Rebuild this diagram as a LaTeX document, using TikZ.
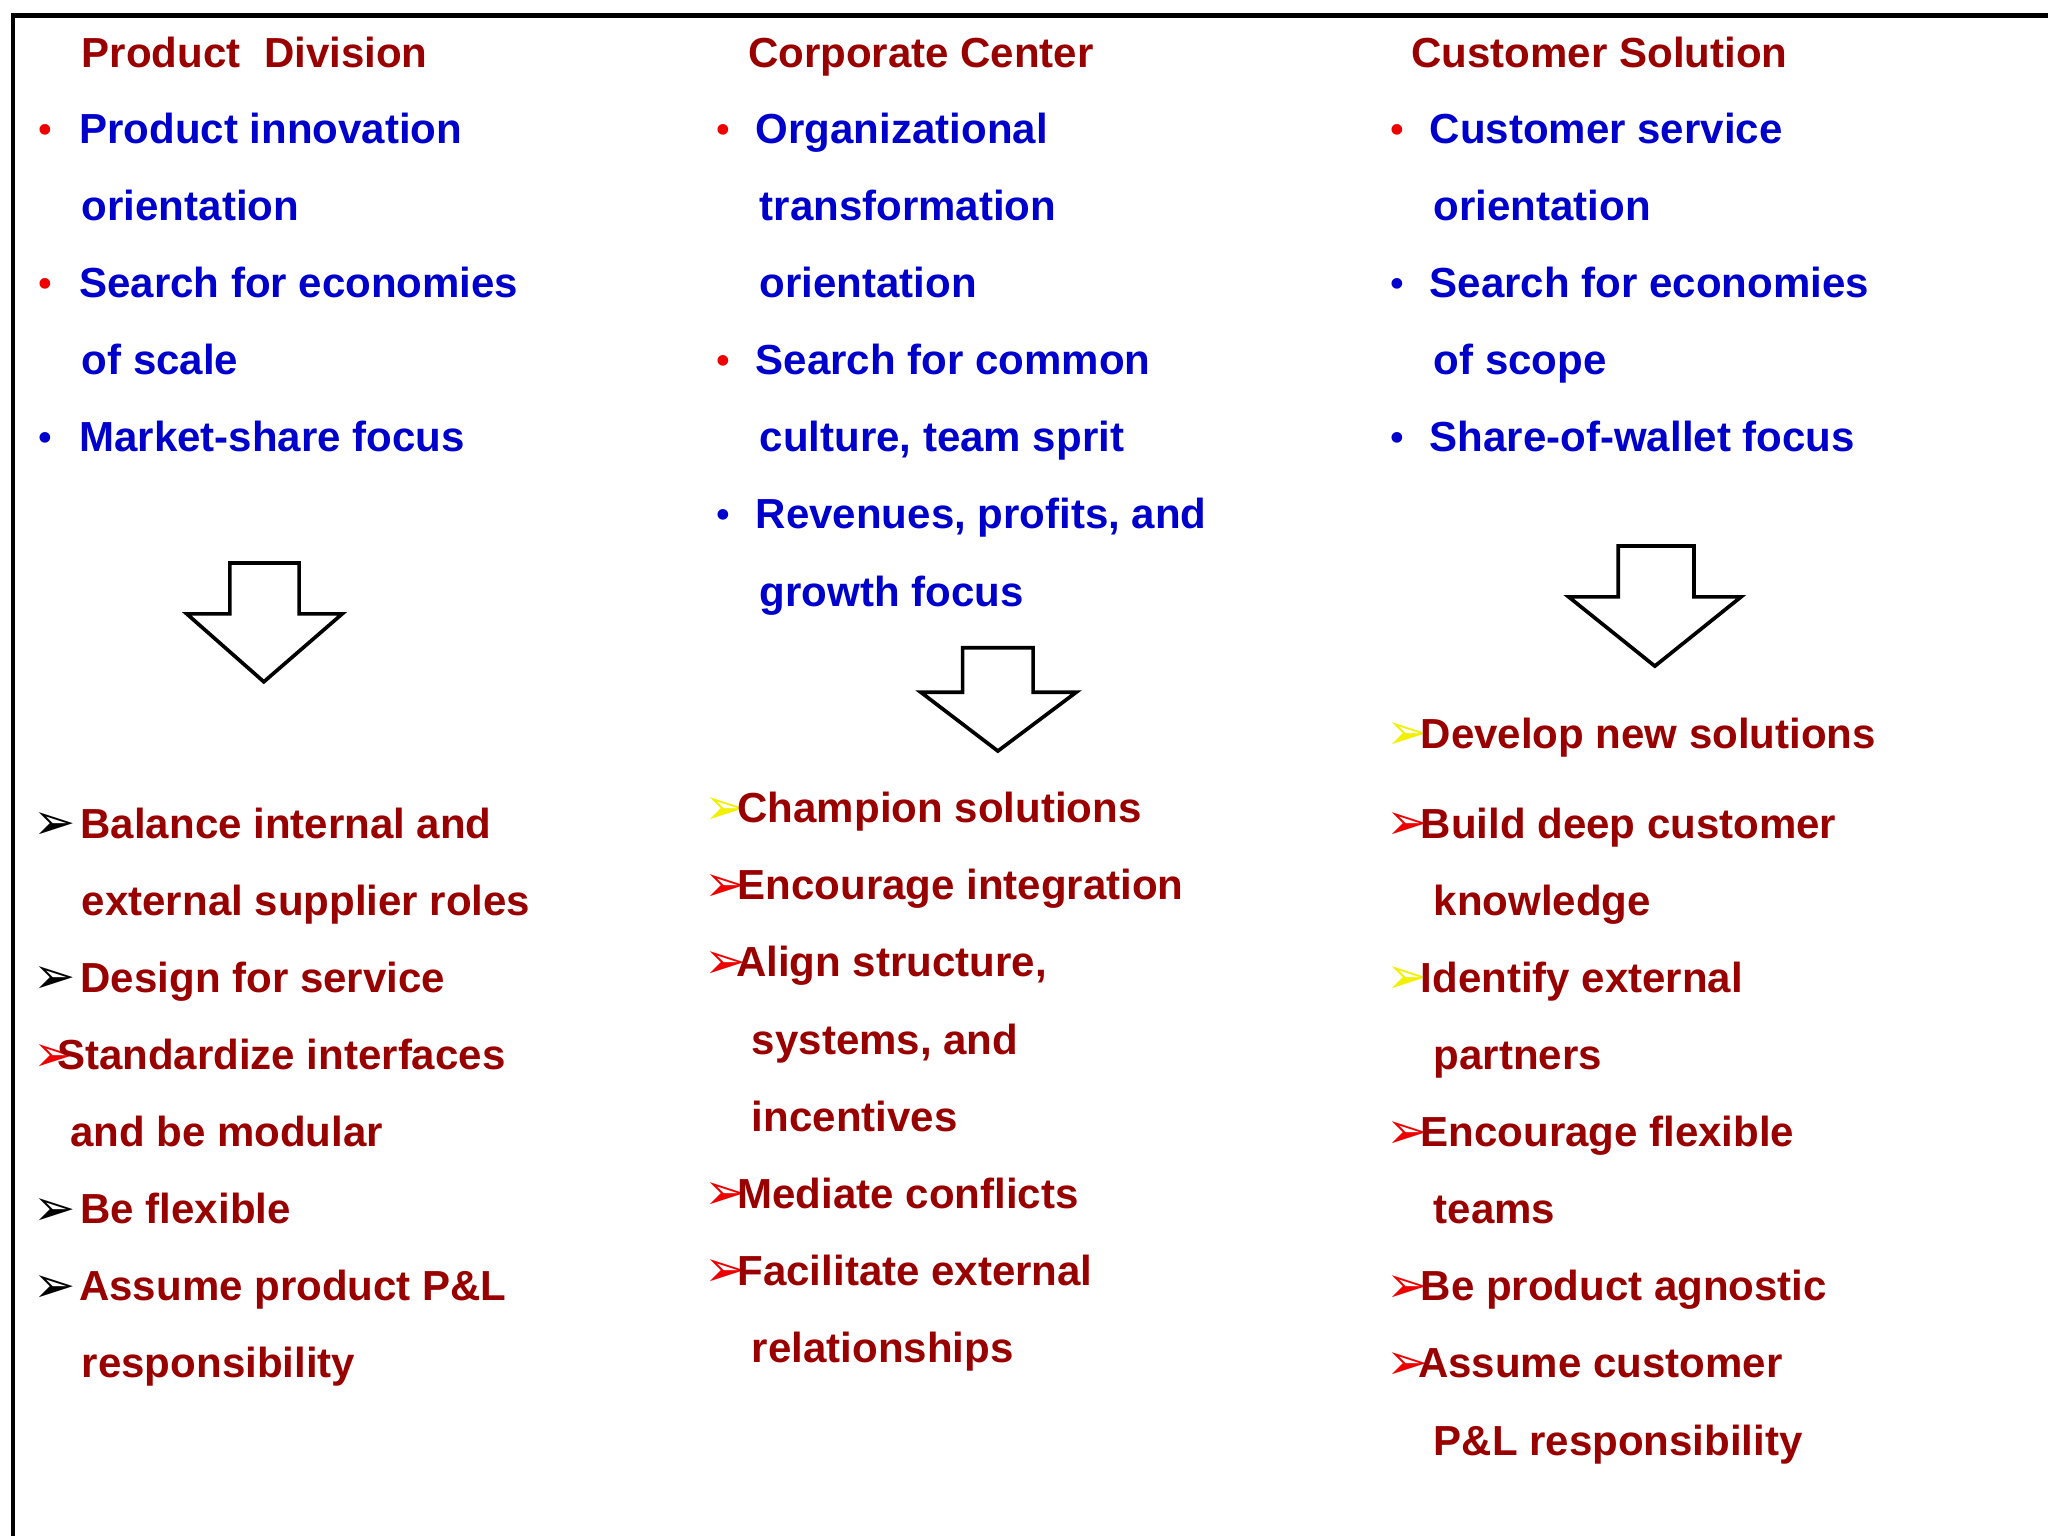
\documentclass[tikz,border=0pt]{standalone}
\usepackage{fontspec}
\setmainfont{Liberation Sans}
\newfontfamily\djvfont{DejaVu Sans}
\definecolor{dred}{HTML}{990000}
\definecolor{dblue}{HTML}{0000CC}
\definecolor{bred}{HTML}{EE0000}
\definecolor{byel}{HTML}{F0F000}
\begin{document}
\begin{tikzpicture}[x=0.01cm,y=-0.01cm,
 t/.style={anchor=base west,inner sep=0pt,font=\bfseries\fontsize{9.15pt}{10pt}\selectfont},
 h/.style={t,text=dred}, b/.style={t,text=dblue}, r/.style={t,text=dred},
 mk/.style={anchor=base west,inner sep=0pt,font=\djvfont\fontsize{8pt}{9pt}\selectfont},
 ak/.style={anchor=base west,inner sep=0pt,font=\djvfont\fontsize{11pt}{12pt}\selectfont},
 blk/.style={draw=black,fill=white,line width=0.8pt}]
\useasboundingbox (0,0) rectangle (1568,1176);
\draw[line width=1pt] (10,1176) -- (10,12) -- (1568,12);
% column 1
\node[h] (h1) at (62,52) {Product \ Division};
\node[mk,text=bred] (m1) at (26,110) {•};\node[b] (a1) at (60,110) {Product innovation};
\node[b] (a2) at (62,169) {orientation};
\node[mk,text=bred] (m2) at (26,228) {•};\node[b] (a3) at (60,228) {Search for economies};
\node[b] (a4) at (62,287) {of scale};
\node[mk,text=dblue] (m3) at (26,346) {•};\node[b] (a5) at (60,346) {Market-share focus};
\draw[blk] (176,431) -- (229,431) -- (229,470) -- (262,470) -- (202,522) -- (143,470) -- (176,470) -- cycle;
\node[ak] (n1) at (25,643) {➢};\node[r] (c1) at (61,642) {Balance internal and};
\node[r] (c2) at (62,701) {external supplier roles};
\node[ak] (n2) at (25,761) {➢};\node[r] (c3) at (61,760) {Design for service};
\node[ak,text=bred] (n3) at (25,820) {➢};\node[r] (c4) at (43,819) {Standardize interfaces};
\node[r] (c5) at (53,878) {and be modular};
\node[ak] (n4) at (25,938) {➢};\node[r] (c6) at (61,937) {Be flexible};
\node[ak] (n5) at (25,997) {➢};\node[r] (c7) at (60,996) {Assume product P\&L};
\node[r] (c8) at (62,1055) {responsibility};
% column 2
\node[h] (h2) at (572,52) {Corporate Center};
\node[mk,text=bred] (p1) at (545,110) {•};\node[b] (d1) at (578,110) {Organizational};
\node[b] (d2) at (581,169) {transformation};
\node[b] (d3) at (581,228) {orientation};
\node[mk,text=bred] (p2) at (545,287) {•};\node[b] (d4) at (578,287) {Search for common};
\node[b] (d5) at (581,346) {culture, team sprit};
\node[mk,text=dblue] (p3) at (545,405) {•};\node[b] (d6) at (578,405) {Revenues, profits, and};
\node[b] (d7) at (581,464) {growth focus};
\draw[blk] (737,496) -- (791,496) -- (791,530) -- (824,530) -- (764,575) -- (705,530) -- (737,530) -- cycle;
\node[ak,text=byel] (q1) at (539,631) {➢};\node[r] (e1) at (564,630) {Champion solutions};
\node[ak,text=bred] (q2) at (539,690) {➢};\node[r] (e2) at (564,689) {Encourage integration};
\node[ak,text=bred] (q3) at (539,749) {➢};\node[r] (e3) at (563,748) {Align structure,};
\node[r] (e4) at (575,807) {systems, and};
\node[r] (e5) at (575,866) {incentives};
\node[ak,text=bred] (q4) at (539,926) {➢};\node[r] (e6) at (564,925) {Mediate conflicts};
\node[ak,text=bred] (q5) at (539,985) {➢};\node[r] (e7) at (564,984) {Facilitate external};
\node[r] (e8) at (575,1043) {relationships};
% column 3
\node[h] (h3) at (1080,52) {Customer Solution};
\node[mk,text=bred] (s1) at (1061,110) {•};\node[b] (f1) at (1094,110) {Customer service};
\node[b] (f2) at (1097,169) {orientation};
\node[mk,text=dblue] (s2) at (1061,228) {•};\node[b] (f3) at (1094,228) {Search for economies};
\node[b] (f4) at (1097,287) {of scope};
\node[mk,text=dblue] (s3) at (1061,346) {•};\node[b] (f5) at (1094,346) {Share-of-wallet focus};
\draw[blk] (1239,418) -- (1297,418) -- (1297,457) -- (1333,457) -- (1267,510) -- (1201,457) -- (1239,457) -- cycle;
\node[ak,text=byel] (u1) at (1061,574) {➢};\node[r] (g1) at (1087,573) {Develop new solutions};
\node[ak,text=bred] (u2) at (1061,643) {➢};\node[r] (g2) at (1087,642) {Build deep customer};
\node[r] (g3) at (1097,701) {knowledge};
\node[ak,text=byel] (u3) at (1061,761) {➢};\node[r] (g4) at (1087,760) {Identify external};
\node[r] (g5) at (1097,819) {partners};
\node[ak,text=bred] (u4) at (1061,879) {➢};\node[r] (g6) at (1087,878) {Encourage flexible};
\node[r] (g7) at (1097,937) {teams};
\node[ak,text=bred] (u5) at (1061,997) {➢};\node[r] (g8) at (1087,996) {Be product agnostic};
\node[ak,text=bred] (u6) at (1061,1056) {➢};\node[r] (g9) at (1085,1055) {Assume customer};
\node[r] (g10) at (1097,1114) {P\&L responsibility};
\end{tikzpicture}
\end{document}
